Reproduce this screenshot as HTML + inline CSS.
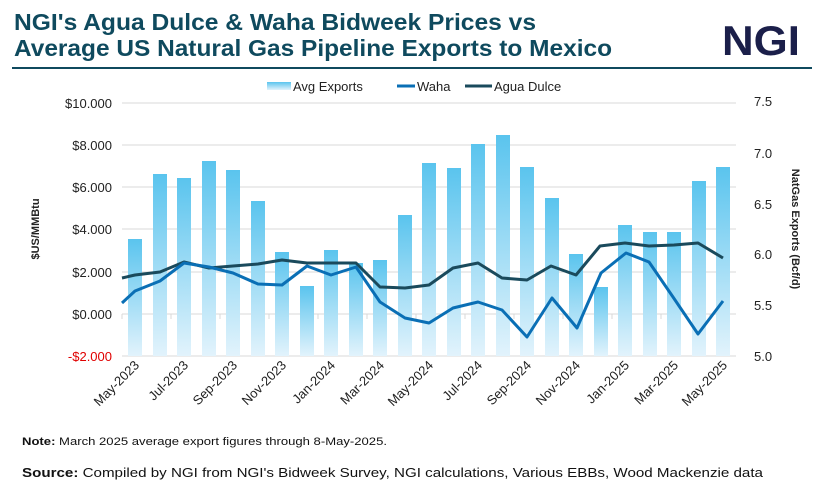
<!DOCTYPE html>
<html><head><meta charset="utf-8"><style>
html,body{margin:0;padding:0;background:#fff;}
svg{display:block;font-family:"Liberation Sans",Arial,sans-serif;}
</style></head><body>
<svg width="829" height="486" viewBox="0 0 829 486" xmlns="http://www.w3.org/2000/svg">
<defs>
<linearGradient id="bg" x1="0" y1="0" x2="0" y2="1">
<stop offset="0" stop-color="#5ac4ee"/>
<stop offset="1" stop-color="#e2f3fc"/>
</linearGradient>
</defs>
<text x="14" y="30" font-size="23" font-weight="bold" fill="#0f4a5e" textLength="522" lengthAdjust="spacingAndGlyphs">NGI's Agua Dulce &amp; Waha Bidweek Prices vs</text>
<text x="14" y="56" font-size="23" font-weight="bold" fill="#0f4a5e" textLength="598" lengthAdjust="spacingAndGlyphs">Average US Natural Gas Pipeline Exports to Mexico</text>
<text x="722" y="55" font-size="42" font-weight="bold" fill="#1b1f4a" textLength="78" lengthAdjust="spacingAndGlyphs">NGI</text>
<rect x="12" y="67" width="800" height="2" fill="#0f4a5e"/>
<!-- legend -->
<rect x="267" y="82" width="24" height="8" fill="url(#bg)"/>
<text x="293" y="91" font-size="13" fill="#222">Avg Exports</text>
<line x1="397" y1="86" x2="415" y2="86" stroke="#0a6fb5" stroke-width="3"/>
<text x="417" y="91" font-size="13" fill="#222">Waha</text>
<line x1="465" y1="86" x2="492" y2="86" stroke="#1a4a5c" stroke-width="3"/>
<text x="494" y="91" font-size="13" fill="#222">Agua Dulce</text>
<!-- gridlines -->
<g stroke="#d9d9d9" stroke-width="1">
<line x1="122" y1="103" x2="736" y2="103"/>
<line x1="122" y1="145" x2="736" y2="145"/>
<line x1="122" y1="187" x2="736" y2="187"/>
<line x1="122" y1="229" x2="736" y2="229"/>
<line x1="122" y1="272" x2="736" y2="272"/>
<line x1="122" y1="314" x2="736" y2="314"/>
<line x1="122" y1="356" x2="736" y2="356"/>
</g>
<g font-size="13" fill="#222" text-anchor="end">
<text x="112" y="108">$10.000</text>
<text x="112" y="150">$8.000</text>
<text x="112" y="192">$6.000</text>
<text x="112" y="234">$4.000</text>
<text x="112" y="277">$2.000</text>
<text x="112" y="319">$0.000</text>
<text x="112" y="361" fill="#e00000">-$2.000</text>
</g>
<g font-size="13" fill="#222">
<text x="754" y="106">7.5</text>
<text x="754" y="158">7.0</text>
<text x="754" y="209">6.5</text>
<text x="754" y="259">6.0</text>
<text x="754" y="310">5.5</text>
<text x="754" y="361">5.0</text>
</g>
<text transform="translate(39,229) rotate(-90)" font-size="11" font-weight="bold" text-anchor="middle" fill="#222">$US/MMBtu</text>
<text transform="translate(792,229) rotate(90)" font-size="11" font-weight="bold" text-anchor="middle" fill="#222">NatGas Exports (Bcf/d)</text>
<!-- bars -->
<g fill="url(#bg)">
<rect x="128" y="239" width="14" height="117"/>
<rect x="153" y="174" width="14" height="182"/>
<rect x="177" y="178" width="14" height="178"/>
<rect x="202" y="161" width="14" height="195"/>
<rect x="226" y="170" width="14" height="186"/>
<rect x="251" y="201" width="14" height="155"/>
<rect x="275" y="252" width="14" height="104"/>
<rect x="300" y="286" width="14" height="70"/>
<rect x="324" y="250" width="14" height="106"/>
<rect x="349" y="263" width="14" height="93"/>
<rect x="373" y="260" width="14" height="96"/>
<rect x="398" y="215" width="14" height="141"/>
<rect x="422" y="163" width="14" height="193"/>
<rect x="447" y="168" width="14" height="188"/>
<rect x="471" y="144" width="14" height="212"/>
<rect x="496" y="135" width="14" height="221"/>
<rect x="520" y="167" width="14" height="189"/>
<rect x="545" y="198" width="14" height="158"/>
<rect x="569" y="254" width="14" height="102"/>
<rect x="594" y="287" width="14" height="69"/>
<rect x="618" y="225" width="14" height="131"/>
<rect x="643" y="232" width="14" height="124"/>
<rect x="667" y="232" width="14" height="124"/>
<rect x="692" y="181" width="14" height="175"/>
<rect x="716" y="167" width="14" height="189"/>
</g>
<!-- ticks on zero line -->
<g stroke="#d9d9d9">
<line x1="122" y1="314" x2="122" y2="319"/><line x1="171" y1="314" x2="171" y2="319"/><line x1="220" y1="314" x2="220" y2="319"/><line x1="269" y1="314" x2="269" y2="319"/><line x1="318" y1="314" x2="318" y2="319"/><line x1="367" y1="314" x2="367" y2="319"/><line x1="416" y1="314" x2="416" y2="319"/><line x1="465" y1="314" x2="465" y2="319"/><line x1="514" y1="314" x2="514" y2="319"/><line x1="563" y1="314" x2="563" y2="319"/><line x1="612" y1="314" x2="612" y2="319"/><line x1="661" y1="314" x2="661" y2="319"/><line x1="710" y1="314" x2="710" y2="319"/>
</g>
<!-- lines -->
<polyline fill="none" stroke="#1a4a5c" stroke-width="3" stroke-linejoin="round" points="122,278 135,275 160,272 184,262 209,268 233,266 258,264 282,260 307,263 331,263 356,263 380,287 405,288 429,285 453,268 478,263 502,278 527,280 551,266 576,275 600,246 625,243 649,246 674,245 698,243 723,258"/>
<polyline fill="none" stroke="#0a6fb5" stroke-width="3" stroke-linejoin="round" points="122,303 135,291 160,281 184,263 209,267 233,273 258,284 282,285 307,266 331,275 356,267 380,302 405,318 429,323 453,308 478,302 502,310 527,337 552,298 577,328 601,273 626,253 649,262 673,297 698,334 723,301"/>
<!-- x labels -->
<g font-size="13" fill="#222" text-anchor="end">
<text transform="translate(140,366) rotate(-45)">May-2023</text>
<text transform="translate(189,366) rotate(-45)">Jul-2023</text>
<text transform="translate(238,366) rotate(-45)">Sep-2023</text>
<text transform="translate(287,366) rotate(-45)">Nov-2023</text>
<text transform="translate(336,366) rotate(-45)">Jan-2024</text>
<text transform="translate(385,366) rotate(-45)">Mar-2024</text>
<text transform="translate(434,366) rotate(-45)">May-2024</text>
<text transform="translate(483,366) rotate(-45)">Jul-2024</text>
<text transform="translate(532,366) rotate(-45)">Sep-2024</text>
<text transform="translate(581,366) rotate(-45)">Nov-2024</text>
<text transform="translate(630,366) rotate(-45)">Jan-2025</text>
<text transform="translate(679,366) rotate(-45)">Mar-2025</text>
<text transform="translate(728,366) rotate(-45)">May-2025</text>
</g>
<text x="22" y="445" font-size="11" fill="#111" textLength="365" lengthAdjust="spacingAndGlyphs"><tspan font-weight="bold">Note:</tspan> March 2025 average export figures through 8-May-2025.</text>
<text x="22" y="477" font-size="13" fill="#111" textLength="741" lengthAdjust="spacingAndGlyphs"><tspan font-weight="bold">Source:</tspan> Compiled by NGI from NGI's Bidweek Survey, NGI calculations, Various EBBs, Wood Mackenzie data</text>
</svg>
</body></html>
